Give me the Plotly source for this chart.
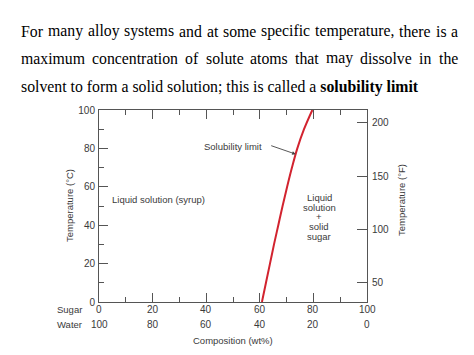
import numpy as np
import plotly.graph_objects as go

# ---- data ----
temp_c = [0, 10, 20, 30, 40, 50, 60, 70, 80, 90, 100]
sugar_wt = [60.8, 62.3, 63.8, 65.3, 66.9, 68.5, 70.2, 72.0, 74.0, 76.5, 79.6]
x_ticks = [0, 20, 40, 60, 80, 100]
sugar_labels = ["0", "20", "40", "60", "80", "100"]
water_labels = ["100", "80", "60", "40", "20", "0"]
y_ticks_c = [0, 20, 40, 60, 80, 100]
y_ticks_f = [50, 100, 150, 200]

line1 = "For many alloy systems and at some specific temperature, there is a"
line2 = "maximum concentration of solute atoms that may dissolve in the"
line3_regular = "solvent to form a solid solution; this is called a "
line3_bold = "solubility limit"

# ---- layout helpers (reference pixel coords; the page body adds an 8px margin) ----
OFF = 8
L, T, W, H = 99, 110, 268, 192
FIG_W, FIG_H = 474 - OFF, 355 - OFF


def px(x):
    return (x - L) / W


def py(y):
    return (T + H - y) / H


TIMES = {'a': 444, 'b': 500, 'c': 444, 'd': 500, 'e': 444, 'f': 333, 'g': 500, 'h': 500,
         'i': 278, 'j': 278, 'k': 500, 'l': 278, 'm': 778, 'n': 500, 'o': 500, 'p': 500,
         'q': 500, 'r': 333, 's': 389, 't': 278, 'u': 500, 'v': 500, 'w': 722, 'x': 500,
         'y': 500, 'z': 444, 'F': 556, ',': 250, ';': 278, '.': 250, ' ': 250}


def tw(s, size):
    return sum(TIMES.get(c, 500) for c in s) * size / 1000.0


SERIF = "Liberation Serif, Times New Roman, serif"
SANS = "Liberation Sans, Arial, sans-serif"
TXT = "#3a3a3a"
AX = "#555555"
FS_P = 15.8
FS_L = 9.5

annotations = []


def label(text, x, y, size=FS_L, xanchor="center", xref="paper", angle=0):
    annotations.append(dict(text=text, x=x, y=y, xref=xref, yref="paper", xanchor=xanchor,
                            yanchor="middle", textangle=angle, showarrow=False, borderpad=0,
                            font=dict(family=SANS, size=size, color=TXT)))


def justify(line, left, right, ycenter):
    words = line.split(" ")
    widths = [tw(w, FS_P) for w in words]
    gap = (right - left - sum(widths)) / (len(words) - 1)
    x = left
    for w, wd in zip(words, widths):
        annotations.append(dict(text=w, x=px(x), y=py(ycenter), xref="paper", yref="paper",
                                xanchor="left", yanchor="middle", showarrow=False, borderpad=0,
                                font=dict(family=SERIF, size=FS_P, color="black")))
        x += wd + gap


justify(line1, 20, 457, 31)
justify(line2, 20, 457, 58)
annotations.append(dict(text=line3_regular + "<b>" + line3_bold + "</b>", x=px(20), y=py(87),
                        xref="paper", yref="paper", xanchor="left", yanchor="middle",
                        showarrow=False, borderpad=0,
                        font=dict(family=SERIF, size=FS_P, color="black")))

# region labels
label("Liquid solution (syrup)", px(158), py(199))
for t, yy in zip(["Liquid", "solution", "+", "solid", "sugar"], [197, 207, 216.5, 226, 236]):
    label(t, px(319), py(yy))
label("Solubility limit", px(233), py(146))
# arrow to the curve
t_arrow = 77
annotations.append(dict(text="", x=float(np.interp(t_arrow, temp_c, sugar_wt)), y=t_arrow,
                        xref="x", yref="y", showarrow=True, ax=-26, ay=-9,
                        arrowhead=2, arrowsize=0.8, arrowwidth=0.9, arrowcolor="#444444"))
# axis titles
label("Temperature (°C)", px(69), py(206), angle=-90)
label("Temperature (°F)", px(401), py(200), angle=-90)
label("Composition (wt%)", 0.5, py(340))
# row names
label("Sugar", px(56), py(309), xanchor="left")
label("Water", px(56), py(324), xanchor="left")
# the two rows of composition labels, placed on the x scale
for v, s, w in zip(x_ticks, sugar_labels, water_labels):
    label(s, v, py(309), size=10, xref="x")
    label(w, v, py(324), size=10, xref="x")

fig = go.Figure()
fig.add_trace(go.Scatter(x=sugar_wt, y=temp_c, mode="lines", line=dict(color="#d2232f", width=2),
                         line_shape="spline", showlegend=False, hoverinfo="skip"))
temp_f = [c * 9 / 5 + 32 for c in temp_c]
fig.add_trace(go.Scatter(x=sugar_wt, y=temp_f, yaxis="y2", mode="lines",
                         line=dict(color="rgba(0,0,0,0)", width=0), showlegend=False, hoverinfo="skip"))

fig.update_layout(
    width=FIG_W, height=FIG_H,
    margin=dict(l=L - OFF, r=474 - L - W, t=T - OFF, b=355 - T - H, pad=0),
    paper_bgcolor="white", plot_bgcolor="white",
    font=dict(family=SANS, size=10, color=TXT),
    xaxis=dict(range=[0, 100], tickvals=x_ticks, showticklabels=False, ticks="inside", ticklen=9,
               tickwidth=1, tickcolor=AX, showline=True, linecolor=AX, linewidth=1, mirror="ticks",
               showgrid=False, zeroline=False,
               minor=dict(dtick=10, ticks="inside", ticklen=5, tickcolor=AX, showgrid=False)),
    yaxis=dict(range=[0, 100], tickvals=y_ticks_c, ticks="inside", ticklen=9, tickwidth=1,
               tickcolor=AX, showline=True, linecolor=AX, linewidth=1, showgrid=False, zeroline=False,
               tickfont=dict(size=10, color=TXT), ticklabelstandoff=1,
               minor=dict(dtick=10, ticks="inside", ticklen=5, tickcolor=AX, showgrid=False)),
    yaxis2=dict(range=[32, 212], overlaying="y", side="right", anchor="x", tickvals=y_ticks_f,
                ticks="inside", ticklen=10, tickwidth=1, tickcolor=AX, showline=True, linecolor=AX,
                linewidth=1, showgrid=False, zeroline=False, tickfont=dict(size=10, color=TXT),
                ticklabelstandoff=2),
    annotations=annotations,
)

fig.write_html("out.html")
